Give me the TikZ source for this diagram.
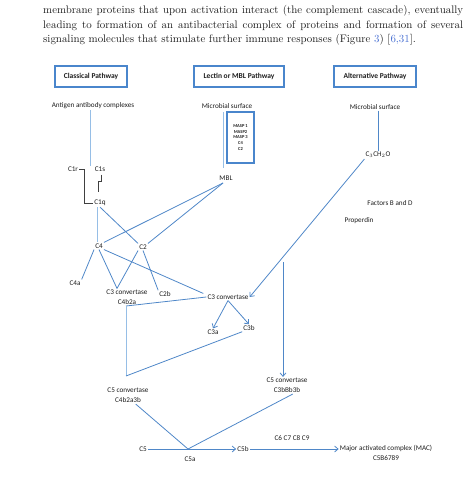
\documentclass[tikz,border=0pt]{standalone}
\usepackage{fontspec}
\newfontfamily\carlito{Carlito}
\usetikzlibrary{arrows.meta}
\definecolor{boxblue}{RGB}{74,134,204}
\definecolor{lineblue}{RGB}{79,135,200}
\definecolor{lightblue}{RGB}{150,190,230}
\definecolor{refblue}{RGB}{70,110,210}
\definecolor{txt}{RGB}{30,30,30}
\begin{document}
\begin{tikzpicture}[x=1pt,y=1pt,
  lbl/.style={font=\carlito\fontsize{7.2}{10}\selectfont, inner sep=1pt, align=center, text=txt},
  tiny/.style={font=\carlito\bfseries\fontsize{4.5}{5.8}\selectfont, align=center, text=txt},
  pbox/.style={draw=boxblue, line width=1.6pt, font=\carlito\bfseries\fontsize{7.5}{9}\selectfont, minimum height=21pt, inner sep=2pt, text=txt},
  ln/.style={draw=lineblue, line width=0.8pt},
  lt/.style={draw=lightblue, line width=0.8pt},
  gr/.style={draw=black!75, line width=0.6pt},
  hdrl/.style={anchor=base west, inner sep=0pt, font=\fontsize{10.9}{14.5}\selectfont, text=txt},
  arr/.style={ln, -{Straight Barb[length=3.5pt,width=6pt]}}]
\useasboundingbox (0,0) rectangle (474,-481);
% header text
\node[hdrl] (h1) at (43,-14) {\makebox[420pt][s]{membrane proteins that upon activation interact (the complement cascade), eventually}};
\node[hdrl] (h2) at (43,-28.5) {\makebox[420pt][s]{leading to formation of an antibacterial complex of proteins and formation of several}};
\node[hdrl] (h3) at (43,-43) {signaling molecules that stimulate further immune responses (Figure~\textcolor{refblue}{3}) [\textcolor{refblue}{6,31}].};
% pathway boxes
\node[pbox, minimum width=72pt] (cp) at (91,-76.5) {Classical Pathway};
\node[pbox, minimum width=90pt] (lp) at (239,-76.5) {Lectin or MBL Pathway};
\node[pbox, minimum width=82pt] (ap) at (375,-76.5) {Alternative Pathway};
% labels
\node[lbl] (ag) at (93,-106) {Antigen antibody complexes};
\node[lbl] (ms1) at (227,-106) {Microbial surface};
\node[lbl] (ms2) at (375,-107) {Microbial surface};
\node[draw=boxblue, line width=1.4pt, tiny, minimum width=27pt, minimum height=51pt, inner sep=1pt] (masp) at (240.5,-137.5) {MASP 1\\MASP2\\MASP 3\\C4\\C2};
\node[lbl] (c1r) at (73,-169) {C1r};
\node[lbl] (c1s) at (100,-169) {C1s};
\node[lbl] (c1q) at (100,-203) {C1q};
\node[lbl] (mbl) at (226,-178) {MBL};
\node[lbl] (c3h) at (378,-155) {C$_3$CH$_2$O};
\node[lbl] (fbd) at (390,-203) {Factors B and D};
\node[lbl] (prop) at (359,-221) {Properdin};
\node[lbl] (c4) at (99,-246) {C4};
\node[lbl] (c2) at (143,-247) {C2};
\node[lbl] (c4a) at (75,-283) {C4a};
\node[lbl] (c3cl) at (127,-297) {C3 convertase\\C4b2a};
\node[lbl] (c2b) at (165,-294) {C2b};
\node[lbl] (c3c) at (228,-297) {C3 convertase};
\node[lbl] (c3a) at (213,-332) {C3a};
\node[lbl] (c3b) at (249,-328) {C3b};
\node[lbl] (c5cr) at (287,-385.5) {C5 convertase\\C3bBb3b};
\node[lbl] (c5cl) at (128,-395.5) {C5 convertase\\C4b2a3b};
\node[lbl] (c5) at (143,-449) {C5};
\node[lbl] (c5a) at (190,-459) {C5a};
\node[lbl] (c5b) at (243,-449) {C5b};
\node[lbl] (c6) at (292,-438) {C6 C7 C8 C9};
\node[lbl] (mac) at (386,-453) {Major activated complex (MAC)\\C5B6789};
% coordinates
\coordinate (agend) at (90,-166);
\coordinate (mslt) at (223,-112);
\coordinate (msend) at (223,-168);
\coordinate (mblo) at (223,-183);
\coordinate (jn1) at (126,-306);
\coordinate (jn2) at (126,-376);
\coordinate (vstart) at (283,-262);
\coordinate (c5aj) at (188,-449);
% connectors
\draw[lt] (ag.south -| agend) -- (agend);
\draw[lt] (mslt) -- (msend);
\draw[ln] (ms2.south -| c3h) -- (c3h.north);
\draw[gr] (c1r.east) -- ++(5,0) |- (c1q.west);
\draw[gr] ([shift={(1,-2)}]c1s.south) -- ++(0,-7) -- ++(-3,0) -- ++(0,-10);
\draw[lt] (c1q.south -| 97,0) -- (c4.north -| 97,0);
\draw[ln] (c1q.south) -- (c2.north west);
\draw[ln] (mblo) -- (c4.north east);
\draw[ln] (mblo) -- (c2.north east);
\draw[ln] (c4.south west) -- (c4a.north east);
\draw[ln] (c4.south) -- ([xshift=-10pt]c3cl.north);
\draw[ln] (c2.south west) -- ([xshift=-10pt]c3cl.north);
\draw[ln] (c4.south east) -- ([xshift=-3pt]c3c.north west);
\draw[ln] (c2.south) -- (c2b.north west);
\draw[ln] (c3c.west) -- (jn1);
\draw[lt] (jn1) -- (jn2);
\draw[ln] (jn2) -- (c3b.south west);
\draw[arr] (c3c.south) -- (c3a.north);
\draw[arr] (c3c.south) -- (c3b.north);
\draw[arr] (c3h.south west) -- (c3c.east);
\draw[arr] (vstart) -- (c5cr.north -| vstart);
\draw[ln] ([xshift=-14pt]c5cl.south east) -- (c5aj);
\draw[ln] ([xshift=-16pt]c5cr.south east) -- (c5aj);
\draw[arr] (c5.east) -- (c5b.west);
\draw[arr] (c5b.east) -- (mac.west |- c5b);
\end{tikzpicture}
\end{document}
